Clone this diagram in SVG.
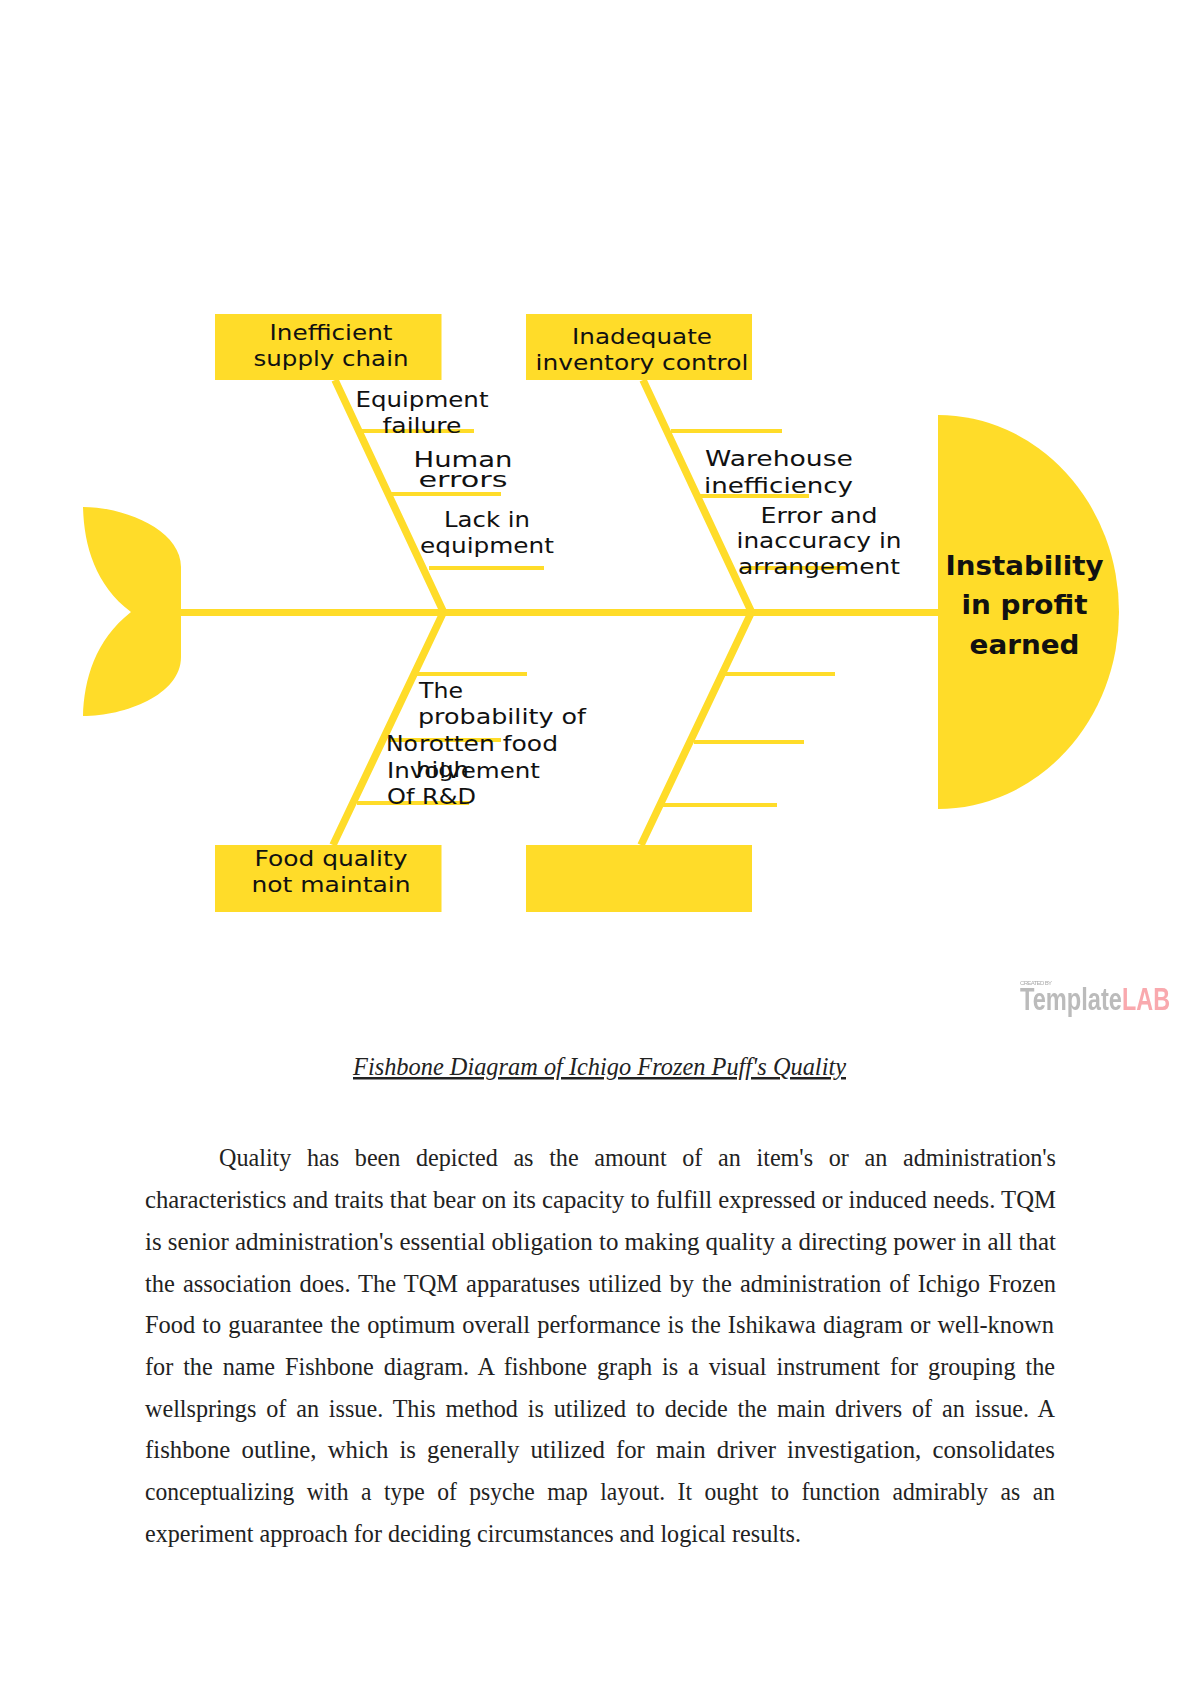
<svg xmlns="http://www.w3.org/2000/svg" width="1200" height="1698" viewBox="0 0 1200 1698">
<style>
.y{fill:#ffdc29}
.s{stroke:#ffdc29;fill:none}
.b{stroke-width:7.5}
.r{stroke-width:4}
.l{font-family:"DejaVu Sans",Verdana,sans-serif;font-size:21.5px;fill:#111}
.m{text-anchor:middle}
.h{font-weight:bold;font-size:27px}
.p{font-family:"Liberation Serif","Times New Roman",serif;font-size:25px;fill:#222}
.t{font-style:italic;text-decoration:underline}
</style>
<defs><filter id="soft"><feGaussianBlur stdDeviation="0.6"/></filter></defs>
<rect width="1200" height="1698" fill="#fff"/>
<g id="connectors">
<path class="s" stroke-width="7" d="M181 612.5H940"/>
<path class="s b" d="M335 380L443.500 612M643 380L751.500 612M443.500 612L333 845M751.500 612L641 845"/>
<path class="s r" d="M362 431H474M391 494H501M429 568H544M671 431H782M700 496H809M741 568H847M416 674H527M388 740H501M357 803H469M724 674H835M694 742H804M663 805H777"/>
</g>
<g id="tail"><path class="y" d="M83 507C125 507 181 530 181 567L181 657C181 695 125 716 83 716C84 680 95 640 131 612C95 585 84 545 83 507Z"/></g>
<g id="head">
<path class="y" d="M938 415A181 197 0 0 1 938 809Z"/>
<text class="l m h" x="1024.500" y="575" textLength="158" lengthAdjust="spacingAndGlyphs">Instability</text>
<text class="l m h" x="1024.500" y="614" textLength="126" lengthAdjust="spacingAndGlyphs">in profit</text>
<text class="l m h" x="1024.500" y="654" textLength="110" lengthAdjust="spacingAndGlyphs">earned</text>
</g>
<g id="box-supply"><rect class="y" x="215" y="314" width="226.500" height="66"/>
<text class="l m" x="331" y="340" textLength="123" lengthAdjust="spacingAndGlyphs">Inefficient</text>
<text class="l m" x="331" y="366" textLength="155" lengthAdjust="spacingAndGlyphs">supply chain</text></g>
<g id="box-inventory"><rect class="y" x="526" y="314" width="226" height="66"/>
<text class="l m" x="642" y="344" textLength="140" lengthAdjust="spacingAndGlyphs">Inadequate</text>
<text class="l m" x="642" y="370" textLength="213" lengthAdjust="spacingAndGlyphs">inventory control</text></g>
<g id="box-food"><rect class="y" x="215" y="845" width="226.500" height="67"/>
<text class="l m" x="331" y="866" textLength="153" lengthAdjust="spacingAndGlyphs">Food quality</text>
<text class="l m" x="331" y="892" textLength="159" lengthAdjust="spacingAndGlyphs">not maintain</text></g>
<g id="box-empty"><rect class="y" x="526" y="845" width="226" height="67"/></g>
<g id="label-equipment-failure">
<text class="l m" x="422" y="407" textLength="133" lengthAdjust="spacingAndGlyphs">Equipment</text>
<text class="l m" x="422" y="433" textLength="79" lengthAdjust="spacingAndGlyphs">failure</text></g>
<g id="label-human-errors">
<text class="l m" x="463" y="467" textLength="99" lengthAdjust="spacingAndGlyphs">Human</text>
<text class="l m" x="463" y="487" textLength="89" lengthAdjust="spacingAndGlyphs">errors</text></g>
<g id="label-lack">
<text class="l m" x="487" y="527" textLength="86" lengthAdjust="spacingAndGlyphs">Lack in</text>
<text class="l m" x="487" y="553" textLength="134" lengthAdjust="spacingAndGlyphs">equipment</text></g>
<g id="label-warehouse">
<text class="l" x="705" y="466" textLength="148" lengthAdjust="spacingAndGlyphs">Warehouse</text>
<text class="l" x="704" y="493" textLength="149" lengthAdjust="spacingAndGlyphs">inefficiency</text></g>
<g id="label-error">
<text class="l m" x="819" y="523" textLength="117" lengthAdjust="spacingAndGlyphs">Error and</text>
<text class="l m" x="819" y="548" textLength="165" lengthAdjust="spacingAndGlyphs">inaccuracy in</text>
<text class="l m" x="819" y="574" textLength="162" lengthAdjust="spacingAndGlyphs">arrangement</text></g>
<g id="label-rotten">
<text class="l" x="419" y="698" textLength="44" lengthAdjust="spacingAndGlyphs">The</text>
<text class="l" x="418" y="724" textLength="168" lengthAdjust="spacingAndGlyphs">probability of</text>
<text class="l" x="419" y="751" textLength="139" lengthAdjust="spacingAndGlyphs">rotten food</text>
<text class="l" x="416" y="777" textLength="53" lengthAdjust="spacingAndGlyphs">high</text></g>
<g id="label-involvement">
<text class="l" x="386" y="751" textLength="32" lengthAdjust="spacingAndGlyphs">No</text>
<text class="l" x="387" y="778" textLength="153" lengthAdjust="spacingAndGlyphs">Involvement</text>
<text class="l" x="387" y="804" textLength="89" lengthAdjust="spacingAndGlyphs">Of R&amp;D</text></g>
<g id="watermark" filter="url(#soft)" font-family="Liberation Sans,Arial,sans-serif">
<text x="1020" y="985" font-size="6" fill="#aaa" textLength="32">CREATED BY</text>
<text x="1020" y="1010" font-size="31" font-weight="bold" fill="#bbb" textLength="102" lengthAdjust="spacingAndGlyphs">Template</text>
<text x="1122" y="1010" font-size="31" font-weight="bold" fill="#f9a9ae" textLength="48" lengthAdjust="spacingAndGlyphs">LAB</text>
</g>
<g id="body-text">
<text class="p t" x="353" y="1075" textLength="493" lengthAdjust="spacingAndGlyphs">Fishbone Diagram of Ichigo Frozen Puff's Quality</text>
<text class="p" x="219" y="1166" textLength="837" word-spacing="10" lengthAdjust="spacingAndGlyphs">Quality has been depicted as the amount of an item's or an administration's</text>
<text class="p" x="145" y="1208" textLength="911" lengthAdjust="spacingAndGlyphs">characteristics and traits that bear on its capacity to fulfill expressed or induced needs. TQM</text>
<text class="p" x="145" y="1250" textLength="911" lengthAdjust="spacingAndGlyphs">is senior administration's essential obligation to making quality a directing power in all that</text>
<text class="p" x="145" y="1292" textLength="911" word-spacing="2" lengthAdjust="spacingAndGlyphs">the association does. The TQM apparatuses utilized by the administration of Ichigo Frozen</text>
<text class="p" x="145" y="1333" textLength="909" word-spacing="1" lengthAdjust="spacingAndGlyphs">Food to guarantee the optimum overall performance is the Ishikawa diagram or well-known</text>
<text class="p" x="145" y="1375" textLength="910" word-spacing="4" lengthAdjust="spacingAndGlyphs">for the name Fishbone diagram. A fishbone graph is a visual instrument for grouping the</text>
<text class="p" x="145" y="1417" textLength="910" word-spacing="4" lengthAdjust="spacingAndGlyphs">wellsprings of an issue. This method is utilized to decide the main drivers of an issue. A</text>
<text class="p" x="145" y="1458" textLength="910" word-spacing="5" lengthAdjust="spacingAndGlyphs">fishbone outline, which is generally utilized for main driver investigation, consolidates</text>
<text class="p" x="145" y="1500" textLength="910" word-spacing="7" lengthAdjust="spacingAndGlyphs">conceptualizing with a type of psyche map layout. It ought to function admirably as an</text>
<text class="p" x="145" y="1542" textLength="656" lengthAdjust="spacingAndGlyphs">experiment approach for deciding circumstances and logical results.</text>
</g>
</svg>
